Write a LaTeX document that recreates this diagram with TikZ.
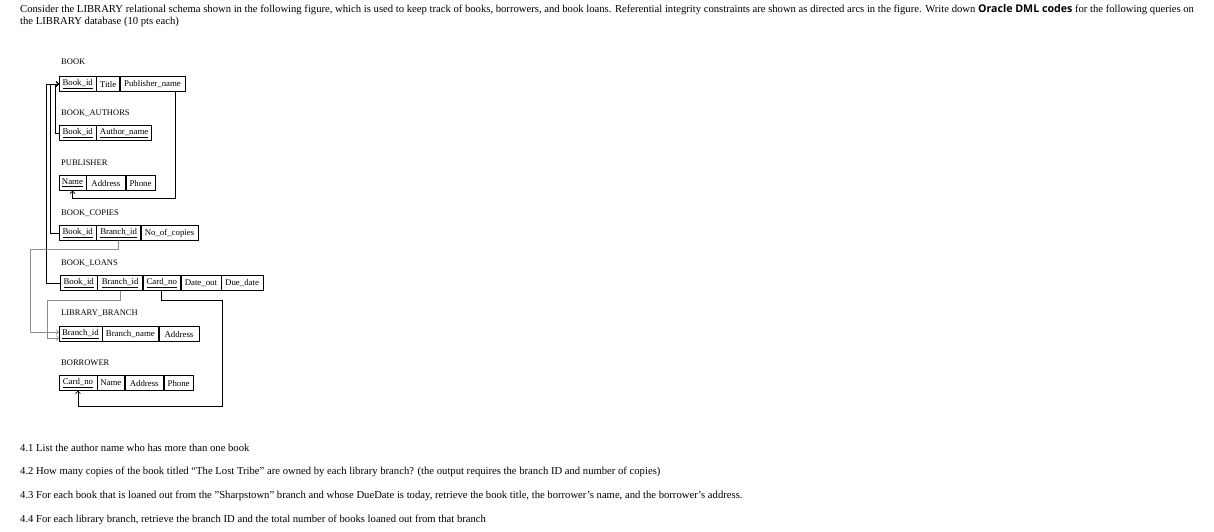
\documentclass[tikz,border=0pt]{standalone}
\usepackage{fontspec}
\setmainfont{Liberation Serif}
\newfontfamily\dmlfont{Open Sans}
\usetikzlibrary{positioning,arrows.meta}
\newcommand{\key}[1]{\underline{#1}}

\begin{document}
\begin{tikzpicture}[x=1pt,y=-1pt,
  cell/.style={draw,anchor=west,minimum height=15,inner xsep=1pt,inner ysep=0pt,font=\fontsize{8.8}{9}\selectfont},
  tname/.style={anchor=west,inner sep=0pt,font=\fontsize{8.5}{9}\selectfont},
  para/.style={anchor=west,inner sep=0pt,font=\fontsize{10.65}{12}\selectfont},
  fk/.style={-{Straight Barb[length=2.5pt,width=5pt]},line width=.6pt},
  fkg/.style={fk,draw=black!45}]
\useasboundingbox (0,0) rectangle (1214,532);

%% the task
\node[para] (head1) at (20,10) {Consider the LIBRARY relational schema shown in the following figure, which is used to keep track of books, borrowers, and book loans. Referential integrity constraints are shown as directed arcs in the figure. Write down {\dmlfont\bfseries Oracle DML codes} for the following queries on};
\node[para] (head2) at (20,21.5) {the LIBRARY database (10 pts each)};

%% BOOK
\node[tname] (t-book) at (61,62) {BOOK};
\node[cell,minimum width=37] (bk-id) at (59,84) {\key{Book\_id}};
\node[cell,minimum width=23,right=0pt of bk-id] (bk-title) {Title};
\node[cell,minimum width=65,right=0pt of bk-title] (bk-pub) {Publisher\_name};

%% BOOK_AUTHORS
\node[tname] (t-auth) at (61,113) {BOOK\_AUTHORS};
\node[cell,minimum width=37] (ba-id) at (59,133) {\key{Book\_id}};
\node[cell,minimum width=55,right=0pt of ba-id] (ba-name) {\key{Author\_name}};

%% PUBLISHER
\node[tname] (t-pub) at (61,163) {PUBLISHER};
\node[cell,minimum width=26.5] (pu-name) at (59,183) {\key{Name}};
\node[cell,minimum width=39.5,right=0pt of pu-name] (pu-addr) {Address};
\node[cell,minimum width=29,right=0pt of pu-addr] (pu-phone) {Phone};

%% BOOK_COPIES
\node[tname] (t-copies) at (61,213) {BOOK\_COPIES};
\node[cell,minimum width=37] (bc-id) at (59,233) {\key{Book\_id}};
\node[cell,minimum width=44,right=0pt of bc-id] (bc-br) {\key{Branch\_id}};
\node[cell,minimum width=57,right=0pt of bc-br] (bc-no) {No\_of\_copies};

%% BOOK_LOANS
\node[tname] (t-loans) at (61,263) {BOOK\_LOANS};
\node[cell,minimum width=37] (bl-id) at (60,283) {\key{Book\_id}};
\node[cell,minimum width=45,right=0pt of bl-id] (bl-br) {\key{Branch\_id}};
\node[cell,minimum width=37.5,right=0pt of bl-br] (bl-card) {\key{Card\_no}};
\node[cell,minimum width=40,right=0pt of bl-card] (bl-out) {Date\_out};
\node[cell,minimum width=41.5,right=0pt of bl-out] (bl-due) {Due\_date};

%% LIBRARY_BRANCH
\node[tname] (t-branch) at (61,313) {LIBRARY\_BRANCH};
\node[cell,minimum width=42.5] (lb-id) at (59,334) {\key{Branch\_id}};
\node[cell,minimum width=56.5,right=0pt of lb-id] (lb-name) {Branch\_name};
\node[cell,minimum width=40,right=0pt of lb-name] (lb-addr) {Address};

%% BORROWER
\node[tname] (t-borr) at (61,363) {BORROWER};
\node[cell,minimum width=37.5] (bo-card) at (59,383) {\key{Card\_no}};
\node[cell,minimum width=27.5,right=0pt of bo-card] (bo-name) {Name};
\node[cell,minimum width=38.5,right=0pt of bo-name] (bo-addr) {Address};
\node[cell,minimum width=29.5,right=0pt of bo-addr] (bo-phone) {Phone};

%% turning points of the arcs
\coordinate (pubturn) at (175,198);
\coordinate (copyturn) at (30,249);
\coordinate (loanturn) at (47,300);
\coordinate (cardturn) at (222,300);
\coordinate (cardlow) at (222,406);

%% arcs into BOOK
\draw[fk] (ba-id.west) -- ++(-4,0) |- (bk-id.west);
\draw[fk] (bc-id.west) -- ++(-8.5,0) |- (bk-id.west);
\draw[fk] (bl-id.west) -- ++(-13.5,0) |- (bk-id.west);
%% publisher
\draw[fk] (bk-pub.south -| pubturn) -- (pubturn) -| (pu-name.south);
%% arcs into LIBRARY_BRANCH
\draw[fkg] (bc-br.south) |- (copyturn) |- ([yshift=2pt]lb-id.west);
\draw[fkg] (bl-br.south) |- (loanturn) |- ([yshift=-4pt]lb-id.west);
%% borrower
\draw[fk] (bl-card.south) |- (cardturn) -- (cardlow) -| (bo-card.south);

%% the queries
\node[para] (q1) at (20,448) {4.1 List the author name who has more than one book};
\node[para] (q2) at (20,472) {4.2 How many copies of the book titled “The Lost Tribe” are owned by each library branch? (the output requires the branch ID and number of copies)};
\node[para] (q3) at (20,496) {4.3 For each book that is loaned out from the "Sharpstown" branch and whose DueDate is today, retrieve the book title, the borrower's name, and the borrower's address.};
\node[para] (q4) at (20,520) {4.4 For each library branch, retrieve the branch ID and the total number of books loaned out from that branch};
\end{tikzpicture}
\end{document}
